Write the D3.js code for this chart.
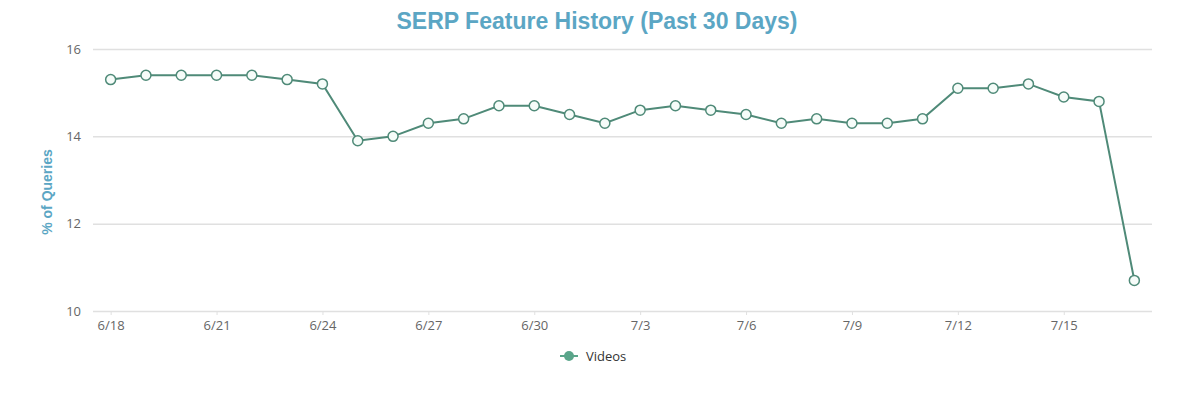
<!DOCTYPE html>
<html>
<head>
<meta charset="utf-8">
<script src="https://cdn.jsdelivr.net/npm/d3@7"></script>
<style>
  body { margin: 0; background: #fff; }
  .grid line { stroke: #e0e0e0; stroke-width: 1.5; }
  .grid .domain { display: none; }
  .tick text { fill: #666; font-family: "Open Sans", sans-serif; font-size: 13px; }
</style>
</head>
<body>
<div id="chart-area"></div>
<script>
// data
var days = ["6/18","6/19","6/20","6/21","6/22","6/23","6/24","6/25","6/26","6/27",
            "6/28","6/29","6/30","7/1","7/2","7/3","7/4","7/5","7/6","7/7",
            "7/8","7/9","7/10","7/11","7/12","7/13","7/14","7/15","7/16","7/17"];
var videos = [15.3,15.4,15.4,15.4,15.4,15.3,15.2,13.9,14.0,14.3,
              14.4,14.7,14.7,14.5,14.3,14.6,14.7,14.6,14.5,14.3,
              14.4,14.3,14.3,14.4,15.1,15.1,15.2,14.9,14.8,10.7];
var xTicks = ["6/18","6/21","6/24","6/27","6/30","7/3","7/6","7/9","7/12","7/15"];
var yTicks = [10, 12, 14, 16];

var margin = {left:93, right:50, top:49, bottom:89};
var width = 1202 - margin.left - margin.right;
var height = 400 - margin.top - margin.bottom;

var svg = d3.select("#chart-area").append("svg")
    .attr("width", 1202)
    .attr("height", 400);

var g = svg.append("g")
    .attr("transform", "translate(" + margin.left + "," + margin.top + ")");

// title
svg.append("text")
    .attr("x", 597)
    .attr("y", 29)
    .attr("text-anchor", "middle")
    .attr("font-family", "Liberation Sans, Arial, sans-serif")
    .attr("font-weight", "bold")
    .attr("font-size", "23px")
    .attr("fill", "#5ba6c4")
    .text("SERP Feature History (Past 30 Days)");

// y label
svg.append("text")
    .attr("transform", "rotate(-90)")
    .attr("x", -192)
    .attr("y", 52)
    .attr("text-anchor", "middle")
    .attr("font-family", "Liberation Sans, Arial, sans-serif")
    .attr("font-weight", "bold")
    .attr("font-size", "14px")
    .attr("fill", "#5ba6c4")
    .text("% of Queries");

var x = d3.scalePoint()
    .domain(days)
    .range([0, width])
    .padding(0.5);

var y = d3.scaleLinear()
    .domain([10, 16])
    .range([height, 0]);

// grid + y labels
var yAxisCall = d3.axisLeft(y)
    .tickValues(yTicks)
    .tickFormat(d3.format("d"))
    .tickSize(-width)
    .tickPadding(12);
var yAxis = g.append("g")
    .attr("class", "grid")
    .call(yAxisCall);

// x axis
var xAxisCall = d3.axisBottom(x)
    .tickValues(xTicks)
    .tickSize(4)
    .tickPadding(6);
var xAxis = g.append("g")
    .attr("transform", "translate(0," + height + ")")
    .call(xAxisCall);
xAxis.select(".domain").remove();
xAxis.selectAll(".tick line").attr("stroke", "#e0e0e0");

var lineColor = "#4f8a78";

var line = d3.line()
    .x(function(d, i){ return x(days[i]); })
    .y(function(d){ return y(d); });

g.append("path")
    .datum(videos)
    .attr("fill", "none")
    .attr("stroke", lineColor)
    .attr("stroke-width", 2)
    .attr("d", line);

g.selectAll("circle.pt")
    .data(videos)
    .enter()
    .append("circle")
    .attr("class", "pt")
    .attr("cx", function(d, i){ return x(days[i]); })
    .attr("cy", function(d){ return y(d); })
    .attr("r", 5)
    .attr("fill", "#f6fcf9")
    .attr("stroke", lineColor)
    .attr("stroke-width", 1.5);

// legend
var leg = svg.append("g").attr("transform", "translate(569,356)");
leg.append("line")
    .attr("x1", -9).attr("x2", 9)
    .attr("stroke", "#5aa58a")
    .attr("stroke-width", 2);
leg.append("circle")
    .attr("r", 5)
    .attr("fill", "#5aa58a");
leg.append("text")
    .attr("x", 17)
    .attr("y", 5)
    .attr("font-family", "Open Sans, sans-serif")
    .attr("font-size", "13px")
    .attr("fill", "#333")
    .text("Videos");
</script>
</body>
</html>
